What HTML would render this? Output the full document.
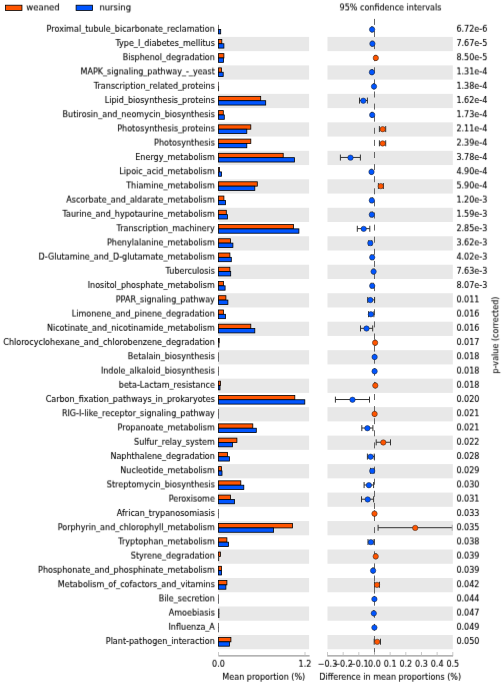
<!DOCTYPE html><html><head><meta charset="utf-8"><title>STAMP extended error bar</title><style>
html,body{margin:0;padding:0;background:#fff;width:503px;height:685px;overflow:hidden}
svg{display:block}text{font-family:"DejaVu Sans","Liberation Sans",sans-serif;fill:#000;stroke:#000;stroke-width:0.1px}
</style></head><body>
<svg width="503" height="685" viewBox="0 0 503 685">
<defs><filter id="f0" x="-20%" y="-50%" width="140%" height="200%"><feConvolveMatrix order="3" kernelMatrix="0.0036 0.0528 0.0036 0.0528 0.7744 0.0528 0.0036 0.0528 0.0036" preserveAlpha="false" edgeMode="none"/></filter><filter id="f1" x="-20%" y="-50%" width="140%" height="200%"><feConvolveMatrix order="3" kernelMatrix="0.0029 0.0422 0.0029 0.0430 0.6301 0.0430 0.0142 0.2077 0.0142" preserveAlpha="false" edgeMode="none"/></filter><filter id="f2" x="-20%" y="-50%" width="140%" height="200%"><feConvolveMatrix order="3" kernelMatrix="0.0022 0.0317 0.0022 0.0331 0.4858 0.0331 0.0247 0.3626 0.0247" preserveAlpha="false" edgeMode="none"/></filter><filter id="f3" x="-20%" y="-50%" width="140%" height="200%"><feConvolveMatrix order="3" kernelMatrix="0.0014 0.0211 0.0014 0.0233 0.3414 0.0233 0.0353 0.5174 0.0353" preserveAlpha="false" edgeMode="none"/></filter><filter id="f4" x="-20%" y="-50%" width="140%" height="200%"><feConvolveMatrix order="3" kernelMatrix="0.0007 0.0106 0.0007 0.0134 0.1971 0.0134 0.0458 0.6723 0.0458" preserveAlpha="false" edgeMode="none"/></filter></defs>
<g fill="#e8e8e8">
<rect x="218.4" y="36.9" width="90.7" height="14.24"/>
<rect x="327.5" y="36.9" width="125.3" height="14.24"/>
<rect x="218.4" y="65.38" width="90.7" height="14.24"/>
<rect x="327.5" y="65.38" width="125.3" height="14.24"/>
<rect x="218.4" y="93.86" width="90.7" height="14.24"/>
<rect x="327.5" y="93.86" width="125.3" height="14.24"/>
<rect x="218.4" y="122.34" width="90.7" height="14.24"/>
<rect x="327.5" y="122.34" width="125.3" height="14.24"/>
<rect x="218.4" y="150.82" width="90.7" height="14.24"/>
<rect x="327.5" y="150.82" width="125.3" height="14.24"/>
<rect x="218.4" y="179.3" width="90.7" height="14.24"/>
<rect x="327.5" y="179.3" width="125.3" height="14.24"/>
<rect x="218.4" y="207.78" width="90.7" height="14.24"/>
<rect x="327.5" y="207.78" width="125.3" height="14.24"/>
<rect x="218.4" y="236.26" width="90.7" height="14.24"/>
<rect x="327.5" y="236.26" width="125.3" height="14.24"/>
<rect x="218.4" y="264.74" width="90.7" height="14.24"/>
<rect x="327.5" y="264.74" width="125.3" height="14.24"/>
<rect x="218.4" y="293.22" width="90.7" height="14.24"/>
<rect x="327.5" y="293.22" width="125.3" height="14.24"/>
<rect x="218.4" y="321.7" width="90.7" height="14.24"/>
<rect x="327.5" y="321.7" width="125.3" height="14.24"/>
<rect x="218.4" y="350.18" width="90.7" height="14.24"/>
<rect x="327.5" y="350.18" width="125.3" height="14.24"/>
<rect x="218.4" y="378.66" width="90.7" height="14.24"/>
<rect x="327.5" y="378.66" width="125.3" height="14.24"/>
<rect x="218.4" y="407.14" width="90.7" height="14.24"/>
<rect x="327.5" y="407.14" width="125.3" height="14.24"/>
<rect x="218.4" y="435.62" width="90.7" height="14.24"/>
<rect x="327.5" y="435.62" width="125.3" height="14.24"/>
<rect x="218.4" y="464.1" width="90.7" height="14.24"/>
<rect x="327.5" y="464.1" width="125.3" height="14.24"/>
<rect x="218.4" y="492.58" width="90.7" height="14.24"/>
<rect x="327.5" y="492.58" width="125.3" height="14.24"/>
<rect x="218.4" y="521.06" width="90.7" height="14.24"/>
<rect x="327.5" y="521.06" width="125.3" height="14.24"/>
<rect x="218.4" y="549.54" width="90.7" height="14.24"/>
<rect x="327.5" y="549.54" width="125.3" height="14.24"/>
<rect x="218.4" y="578.02" width="90.7" height="14.24"/>
<rect x="327.5" y="578.02" width="125.3" height="14.24"/>
<rect x="218.4" y="606.5" width="90.7" height="14.24"/>
<rect x="327.5" y="606.5" width="125.3" height="14.24"/>
<rect x="218.4" y="634.98" width="90.7" height="14.24"/>
<rect x="327.5" y="634.98" width="125.3" height="14.24"/>
</g>
<g stroke="#000" stroke-width="0.8">
<rect x="218.4" y="25.16" width="0.1" height="4.35" fill="#ff5500" stroke="#3a3a3a" stroke-width="0.7"/>
<rect x="218.4" y="29.51" width="2.3" height="4.35" fill="#0055ff"/>
<rect x="218.4" y="39.4" width="3.4" height="4.35" fill="#ff5500"/>
<rect x="218.4" y="43.75" width="5.5" height="4.35" fill="#0055ff"/>
<rect x="218.4" y="53.64" width="5.5" height="4.35" fill="#ff5500"/>
<rect x="218.4" y="57.99" width="5.2" height="4.35" fill="#0055ff"/>
<rect x="218.4" y="67.88" width="3.1" height="4.35" fill="#ff5500"/>
<rect x="218.4" y="72.23" width="4.8" height="4.35" fill="#0055ff"/>
<rect x="218.4" y="82.12" width="0.2" height="4.35" fill="#ff5500" stroke="#3a3a3a" stroke-width="0.7"/>
<rect x="218.4" y="86.47" width="0.3" height="4.35" fill="#0055ff" stroke="#3a3a3a" stroke-width="0.7"/>
<rect x="218.4" y="96.36" width="42.3" height="4.35" fill="#ff5500"/>
<rect x="218.4" y="100.71" width="47.3" height="4.35" fill="#0055ff"/>
<rect x="218.4" y="110.6" width="4.9" height="4.35" fill="#ff5500"/>
<rect x="218.4" y="114.95" width="5.9" height="4.35" fill="#0055ff"/>
<rect x="218.4" y="124.84" width="32.4" height="4.35" fill="#ff5500"/>
<rect x="218.4" y="129.19" width="28.4" height="4.35" fill="#0055ff"/>
<rect x="218.4" y="139.08" width="32.4" height="4.35" fill="#ff5500"/>
<rect x="218.4" y="143.43" width="28.4" height="4.35" fill="#0055ff"/>
<rect x="218.4" y="153.32" width="64.8" height="4.35" fill="#ff5500"/>
<rect x="218.4" y="157.67" width="76.1" height="4.35" fill="#0055ff"/>
<rect x="218.4" y="167.56" width="1.2" height="4.35" fill="#ff5500"/>
<rect x="218.4" y="171.91" width="3.2" height="4.35" fill="#0055ff"/>
<rect x="218.4" y="181.8" width="38.9" height="4.35" fill="#ff5500"/>
<rect x="218.4" y="186.15" width="36.4" height="4.35" fill="#0055ff"/>
<rect x="218.4" y="196.04" width="5.5" height="4.35" fill="#ff5500"/>
<rect x="218.4" y="200.39" width="7.1" height="4.35" fill="#0055ff"/>
<rect x="218.4" y="210.28" width="7.9" height="4.35" fill="#ff5500"/>
<rect x="218.4" y="214.63" width="9.1" height="4.35" fill="#0055ff"/>
<rect x="218.4" y="224.52" width="75.1" height="4.35" fill="#ff5500"/>
<rect x="218.4" y="228.87" width="80.5" height="4.35" fill="#0055ff"/>
<rect x="218.4" y="238.76" width="12.1" height="4.35" fill="#ff5500"/>
<rect x="218.4" y="243.11" width="14.5" height="4.35" fill="#0055ff"/>
<rect x="218.4" y="253" width="11.5" height="4.35" fill="#ff5500"/>
<rect x="218.4" y="257.35" width="12.9" height="4.35" fill="#0055ff"/>
<rect x="218.4" y="267.24" width="11.5" height="4.35" fill="#ff5500"/>
<rect x="218.4" y="271.59" width="12.3" height="4.35" fill="#0055ff"/>
<rect x="218.4" y="281.48" width="5.1" height="4.35" fill="#ff5500"/>
<rect x="218.4" y="285.83" width="6.7" height="4.35" fill="#0055ff"/>
<rect x="218.4" y="295.72" width="7.5" height="4.35" fill="#ff5500"/>
<rect x="218.4" y="300.07" width="9.5" height="4.35" fill="#0055ff"/>
<rect x="218.4" y="309.96" width="5.1" height="4.35" fill="#ff5500"/>
<rect x="218.4" y="314.31" width="7.1" height="4.35" fill="#0055ff"/>
<rect x="218.4" y="324.2" width="32.4" height="4.35" fill="#ff5500"/>
<rect x="218.4" y="328.55" width="36.4" height="4.35" fill="#0055ff"/>
<rect x="218.4" y="338.44" width="0.8" height="4.35" fill="#ff5500"/>
<rect x="218.4" y="342.79" width="0.6" height="4.35" fill="#0055ff" stroke="#3a3a3a" stroke-width="0.7"/>
<rect x="218.4" y="352.68" width="0.1" height="4.35" fill="#ff5500" stroke="#3a3a3a" stroke-width="0.7"/>
<rect x="218.4" y="357.03" width="0.1" height="4.35" fill="#0055ff" stroke="#3a3a3a" stroke-width="0.7"/>
<rect x="218.4" y="366.92" width="0.1" height="4.35" fill="#ff5500" stroke="#3a3a3a" stroke-width="0.7"/>
<rect x="218.4" y="371.27" width="0.1" height="4.35" fill="#0055ff" stroke="#3a3a3a" stroke-width="0.7"/>
<rect x="218.4" y="381.16" width="2.2" height="4.35" fill="#ff5500"/>
<rect x="218.4" y="385.51" width="1.6" height="4.35" fill="#0055ff"/>
<rect x="218.4" y="395.4" width="76.4" height="4.35" fill="#ff5500"/>
<rect x="218.4" y="399.75" width="86.4" height="4.35" fill="#0055ff"/>
<rect x="218.4" y="409.64" width="0.1" height="4.35" fill="#ff5500" stroke="#3a3a3a" stroke-width="0.7"/>
<rect x="218.4" y="413.99" width="0.1" height="4.35" fill="#0055ff" stroke="#3a3a3a" stroke-width="0.7"/>
<rect x="218.4" y="423.88" width="34.4" height="4.35" fill="#ff5500"/>
<rect x="218.4" y="428.23" width="37.9" height="4.35" fill="#0055ff"/>
<rect x="218.4" y="438.12" width="18.5" height="4.35" fill="#ff5500"/>
<rect x="218.4" y="442.47" width="14.1" height="4.35" fill="#0055ff"/>
<rect x="218.4" y="452.36" width="9.1" height="4.35" fill="#ff5500"/>
<rect x="218.4" y="456.71" width="11.1" height="4.35" fill="#0055ff"/>
<rect x="218.4" y="466.6" width="3" height="4.35" fill="#ff5500"/>
<rect x="218.4" y="470.95" width="3.6" height="4.35" fill="#0055ff"/>
<rect x="218.4" y="480.84" width="22.4" height="4.35" fill="#ff5500"/>
<rect x="218.4" y="485.19" width="25.4" height="4.35" fill="#0055ff"/>
<rect x="218.4" y="495.08" width="12.1" height="4.35" fill="#ff5500"/>
<rect x="218.4" y="499.43" width="16.1" height="4.35" fill="#0055ff"/>
<rect x="218.4" y="509.32" width="0.1" height="4.35" fill="#ff5500" stroke="#3a3a3a" stroke-width="0.7"/>
<rect x="218.4" y="513.67" width="0.1" height="4.35" fill="#0055ff" stroke="#3a3a3a" stroke-width="0.7"/>
<rect x="218.4" y="523.56" width="74.1" height="4.35" fill="#ff5500"/>
<rect x="218.4" y="527.91" width="55.2" height="4.35" fill="#0055ff"/>
<rect x="218.4" y="537.8" width="8.5" height="4.35" fill="#ff5500"/>
<rect x="218.4" y="542.15" width="10.1" height="4.35" fill="#0055ff"/>
<rect x="218.4" y="552.04" width="2" height="4.35" fill="#ff5500"/>
<rect x="218.4" y="556.39" width="0.4" height="4.35" fill="#0055ff" stroke="#3a3a3a" stroke-width="0.7"/>
<rect x="218.4" y="566.28" width="3" height="4.35" fill="#ff5500"/>
<rect x="218.4" y="570.63" width="3.2" height="4.35" fill="#0055ff"/>
<rect x="218.4" y="580.52" width="8.5" height="4.35" fill="#ff5500"/>
<rect x="218.4" y="584.87" width="7.5" height="4.35" fill="#0055ff"/>
<rect x="218.4" y="594.76" width="0.1" height="4.35" fill="#ff5500" stroke="#3a3a3a" stroke-width="0.7"/>
<rect x="218.4" y="599.11" width="0.1" height="4.35" fill="#0055ff" stroke="#3a3a3a" stroke-width="0.7"/>
<rect x="218.4" y="609" width="0.6" height="4.35" fill="#ff5500" stroke="#3a3a3a" stroke-width="0.7"/>
<rect x="218.4" y="613.35" width="0.6" height="4.35" fill="#0055ff" stroke="#3a3a3a" stroke-width="0.7"/>
<rect x="218.4" y="623.24" width="0.1" height="4.35" fill="#ff5500" stroke="#3a3a3a" stroke-width="0.7"/>
<rect x="218.4" y="627.59" width="0.1" height="4.35" fill="#0055ff" stroke="#3a3a3a" stroke-width="0.7"/>
<rect x="218.4" y="637.48" width="12.5" height="4.35" fill="#ff5500"/>
<rect x="218.4" y="641.83" width="11.1" height="4.35" fill="#0055ff"/>
</g>
<line x1="374.5" y1="18.9" x2="374.5" y2="655.8" stroke="#555" stroke-width="0.9" stroke-dasharray="6 6.1"/>
<g stroke="#333" stroke-width="1" fill="none">
<path d="M371.5 29.29H372.7M371.5 26.39v6M372.7 26.39v6"/>
<path d="M371.8 43.53H373M371.8 40.63v6M373 40.63v6"/>
<path d="M375.3 57.77H376.3M375.3 54.87v6M376.3 54.87v6"/>
<path d="M371.3 72.01H372.5M371.3 69.11v6M372.5 69.11v6"/>
<path d="M373.5 86.25H374.5M373.5 83.35v6M374.5 83.35v6"/>
<path d="M359.5 100.49H367.4M359.5 97.59v6M367.4 97.59v6"/>
<path d="M371.6 114.73H372.8M371.6 111.83v6M372.8 111.83v6"/>
<path d="M379.4 128.97H385.7M379.4 126.07v6M385.7 126.07v6"/>
<path d="M379.4 143.21H385.7M379.4 140.31v6M385.7 140.31v6"/>
<path d="M340.4 157.45H360.4M340.4 154.55v6M360.4 154.55v6"/>
<path d="M371 171.69H372M371 168.79v6M372 168.79v6"/>
<path d="M378.4 185.93H383.4M378.4 183.03v6M383.4 183.03v6"/>
<path d="M371 200.17H372.6M371 197.27v6M372.6 197.27v6"/>
<path d="M371 214.41H372.6M371 211.51v6M372.6 211.51v6"/>
<path d="M357.3 228.65H369.8M357.3 225.75v6M369.8 225.75v6"/>
<path d="M368.8 242.89H371.8M368.8 239.99v6M371.8 239.99v6"/>
<path d="M371.2 257.13H373.2M371.2 254.23v6M373.2 254.23v6"/>
<path d="M373 271.37H374.2M373 268.47v6M374.2 268.47v6"/>
<path d="M371.2 285.61H373.2M371.2 282.71v6M373.2 282.71v6"/>
<path d="M367.7 299.85H374.6M367.7 296.95v6M374.6 296.95v6"/>
<path d="M368.5 314.09H373.9M368.5 311.19v6M373.9 311.19v6"/>
<path d="M360.5 328.33H372.7M360.5 325.43v6M372.7 325.43v6"/>
<path d="M374.6 342.57H375.6M374.6 339.67v6M375.6 339.67v6"/>
<path d="M374.3 356.81H374.9M374.3 353.91v6M374.9 353.91v6"/>
<path d="M374.3 371.05H374.9M374.3 368.15v6M374.9 368.15v6"/>
<path d="M374.9 385.29H375.7M374.9 382.39v6M375.7 382.39v6"/>
<path d="M335.4 399.53H369.5M335.4 396.63v6M369.5 396.63v6"/>
<path d="M374.4 413.77H374.8M374.4 410.87v6M374.8 410.87v6"/>
<path d="M361.8 428.01H372.9M361.8 425.11v6M372.9 425.11v6"/>
<path d="M376.2 442.25H390.5M376.2 439.35v6M390.5 439.35v6"/>
<path d="M367.4 456.49H374.2M367.4 453.59v6M374.2 453.59v6"/>
<path d="M370.5 470.73H374M370.5 467.83v6M374 467.83v6"/>
<path d="M364.1 484.97H373.6M364.1 482.07v6M373.6 482.07v6"/>
<path d="M361.5 499.21H373.6M361.5 496.31v6M373.6 496.31v6"/>
<path d="M374.3 513.45H374.7M374.3 510.55v6M374.7 510.55v6"/>
<path d="M378.1 527.69H452.2M378.1 524.79v6"/>
<path d="M452.2 524.79v6" stroke="#aaa"/>
<path d="M368 541.93H374M368 539.03v6M374 539.03v6"/>
<path d="M375.2 556.17H376.2M375.2 553.27v6M376.2 553.27v6"/>
<path d="M372.6 570.41H373.6M372.6 567.51v6M373.6 567.51v6"/>
<path d="M374.5 584.65H379.5M374.5 581.75v6M379.5 581.75v6"/>
<path d="M374.2 598.89H374.6M374.2 595.99v6M374.6 595.99v6"/>
<path d="M373.4 613.13H374.2M373.4 610.23v6M374.2 610.23v6"/>
<path d="M374.2 627.37H374.6M374.2 624.47v6M374.6 624.47v6"/>
<path d="M374.2 641.61H380.5M374.2 638.71v6M380.5 638.71v6"/>
</g>
<g stroke="#222" stroke-width="0.5">
<circle cx="372.1" cy="29.51" r="2.7" fill="#0055ff"/>
<circle cx="372.4" cy="43.75" r="2.7" fill="#0055ff"/>
<circle cx="375.8" cy="57.99" r="2.7" fill="#ff5500"/>
<circle cx="371.9" cy="72.23" r="2.7" fill="#0055ff"/>
<circle cx="374" cy="86.47" r="2.7" fill="#0055ff"/>
<circle cx="363.3" cy="100.71" r="2.7" fill="#0055ff"/>
<circle cx="372.2" cy="114.95" r="2.7" fill="#0055ff"/>
<circle cx="382.7" cy="129.19" r="2.7" fill="#ff5500"/>
<circle cx="382.7" cy="143.43" r="2.7" fill="#ff5500"/>
<circle cx="350.5" cy="157.67" r="2.7" fill="#0055ff"/>
<circle cx="371.5" cy="171.91" r="2.7" fill="#0055ff"/>
<circle cx="380.8" cy="186.15" r="2.7" fill="#ff5500"/>
<circle cx="371.8" cy="200.39" r="2.7" fill="#0055ff"/>
<circle cx="371.8" cy="214.63" r="2.7" fill="#0055ff"/>
<circle cx="363.7" cy="228.87" r="2.7" fill="#0055ff"/>
<circle cx="370.3" cy="243.11" r="2.7" fill="#0055ff"/>
<circle cx="372.2" cy="257.35" r="2.7" fill="#0055ff"/>
<circle cx="373.6" cy="271.59" r="2.7" fill="#0055ff"/>
<circle cx="372.2" cy="285.83" r="2.7" fill="#0055ff"/>
<circle cx="370.3" cy="300.07" r="2.7" fill="#0055ff"/>
<circle cx="370.9" cy="314.31" r="2.7" fill="#0055ff"/>
<circle cx="366.5" cy="328.55" r="2.7" fill="#0055ff"/>
<circle cx="375.1" cy="342.79" r="2.7" fill="#ff5500"/>
<circle cx="374.6" cy="357.03" r="2.7" fill="#0055ff"/>
<circle cx="374.6" cy="371.27" r="2.7" fill="#0055ff"/>
<circle cx="375.3" cy="385.51" r="2.7" fill="#ff5500"/>
<circle cx="352.5" cy="399.75" r="2.7" fill="#0055ff"/>
<circle cx="374.6" cy="413.99" r="2.7" fill="#ff5500"/>
<circle cx="367.4" cy="428.23" r="2.7" fill="#0055ff"/>
<circle cx="383.3" cy="442.47" r="2.7" fill="#ff5500"/>
<circle cx="370.6" cy="456.71" r="2.7" fill="#0055ff"/>
<circle cx="372.2" cy="470.95" r="2.7" fill="#0055ff"/>
<circle cx="368.9" cy="485.19" r="2.7" fill="#0055ff"/>
<circle cx="367.7" cy="499.43" r="2.7" fill="#0055ff"/>
<circle cx="374.5" cy="513.67" r="2.7" fill="#ff5500"/>
<circle cx="415.2" cy="527.91" r="2.7" fill="#ff5500"/>
<circle cx="370.9" cy="542.15" r="2.7" fill="#0055ff"/>
<circle cx="375.7" cy="556.39" r="2.7" fill="#ff5500"/>
<circle cx="373.1" cy="570.63" r="2.7" fill="#0055ff"/>
<circle cx="377" cy="584.87" r="2.7" fill="#ff5500"/>
<circle cx="374.4" cy="599.11" r="2.7" fill="#0055ff"/>
<circle cx="373.8" cy="613.35" r="2.7" fill="#0055ff"/>
<circle cx="374.4" cy="627.59" r="2.7" fill="#0055ff"/>
<circle cx="377.2" cy="641.83" r="2.7" fill="#ff5500"/>
</g>
<g stroke="#9a9a9a" stroke-width="1.2">
<line x1="218.4" y1="655.8" x2="309.6" y2="655.8"/>
<line x1="327.2" y1="655.8" x2="453.1" y2="655.8"/>
</g>
<g stroke="#bbb" stroke-width="0.8">
<line x1="218.5" y1="652" x2="218.5" y2="655.8"/>
<line x1="305" y1="652" x2="305" y2="655.8"/>
<line x1="327.5" y1="652" x2="327.5" y2="655.8"/>
<line x1="343.16" y1="652" x2="343.16" y2="655.8"/>
<line x1="358.82" y1="652" x2="358.82" y2="655.8"/>
<line x1="374.49" y1="652" x2="374.49" y2="655.8"/>
<line x1="390.15" y1="652" x2="390.15" y2="655.8"/>
<line x1="405.81" y1="652" x2="405.81" y2="655.8"/>
<line x1="421.48" y1="652" x2="421.48" y2="655.8"/>
<line x1="437.14" y1="652" x2="437.14" y2="655.8"/>
<line x1="452.8" y1="652" x2="452.8" y2="655.8"/>
</g>
<g font-size="8.06">
<text x="214.9" y="31" text-anchor="end" filter="url(#f4)">Proximal_tubule_bicarbonate_reclamation</text>
<text x="456.4" y="31" filter="url(#f4)">6.72e-6</text>
<text x="214.9" y="46" text-anchor="end" filter="url(#f0)">Type_I_diabetes_mellitus</text>
<text x="456.4" y="46" filter="url(#f0)">7.67e-5</text>
<text x="214.9" y="60" text-anchor="end" filter="url(#f1)">Bisphenol_degradation</text>
<text x="456.4" y="60" filter="url(#f1)">8.50e-5</text>
<text x="214.9" y="74" text-anchor="end" filter="url(#f2)">MAPK_signaling_pathway_-_yeast</text>
<text x="456.4" y="74" filter="url(#f2)">1.31e-4</text>
<text x="214.9" y="88" text-anchor="end" filter="url(#f4)">Transcription_related_proteins</text>
<text x="456.4" y="88" filter="url(#f4)">1.38e-4</text>
<text x="214.9" y="103" text-anchor="end" filter="url(#f0)">Lipid_biosynthesis_proteins</text>
<text x="456.4" y="103" filter="url(#f0)">1.62e-4</text>
<text x="214.9" y="117" text-anchor="end" filter="url(#f1)">Butirosin_and_neomycin_biosynthesis</text>
<text x="456.4" y="117" filter="url(#f1)">1.73e-4</text>
<text x="214.9" y="131" text-anchor="end" filter="url(#f2)">Photosynthesis_proteins</text>
<text x="456.4" y="131" filter="url(#f2)">2.11e-4</text>
<text x="214.9" y="145" text-anchor="end" filter="url(#f3)">Photosynthesis</text>
<text x="456.4" y="145" filter="url(#f3)">2.39e-4</text>
<text x="214.9" y="160" text-anchor="end" filter="url(#f0)">Energy_metabolism</text>
<text x="456.4" y="160" filter="url(#f0)">3.78e-4</text>
<text x="214.9" y="174" text-anchor="end" filter="url(#f1)">Lipoic_acid_metabolism</text>
<text x="456.4" y="174" filter="url(#f1)">4.90e-4</text>
<text x="214.9" y="188" text-anchor="end" filter="url(#f2)">Thiamine_metabolism</text>
<text x="456.4" y="188" filter="url(#f2)">5.90e-4</text>
<text x="214.9" y="202" text-anchor="end" filter="url(#f3)">Ascorbate_and_aldarate_metabolism</text>
<text x="456.4" y="202" filter="url(#f3)">1.20e-3</text>
<text x="214.9" y="216" text-anchor="end" filter="url(#f4)">Taurine_and_hypotaurine_metabolism</text>
<text x="456.4" y="216" filter="url(#f4)">1.59e-3</text>
<text x="214.9" y="231" text-anchor="end" filter="url(#f1)">Transcription_machinery</text>
<text x="456.4" y="231" filter="url(#f1)">2.85e-3</text>
<text x="214.9" y="245" text-anchor="end" filter="url(#f2)">Phenylalanine_metabolism</text>
<text x="456.4" y="245" filter="url(#f2)">3.62e-3</text>
<text x="214.9" y="259" text-anchor="end" filter="url(#f3)">D-Glutamine_and_D-glutamate_metabolism</text>
<text x="456.4" y="259" filter="url(#f3)">4.02e-3</text>
<text x="214.9" y="273" text-anchor="end" filter="url(#f4)">Tuberculosis</text>
<text x="456.4" y="273" filter="url(#f4)">7.63e-3</text>
<text x="214.9" y="288" text-anchor="end" filter="url(#f0)">Inositol_phosphate_metabolism</text>
<text x="456.4" y="288" filter="url(#f0)">8.07e-3</text>
<text x="214.9" y="302" text-anchor="end" filter="url(#f2)">PPAR_signaling_pathway</text>
<text x="456.4" y="302" filter="url(#f2)">0.011</text>
<text x="214.9" y="316" text-anchor="end" filter="url(#f3)">Limonene_and_pinene_degradation</text>
<text x="456.4" y="316" filter="url(#f3)">0.016</text>
<text x="214.9" y="330" text-anchor="end" filter="url(#f4)">Nicotinate_and_nicotinamide_metabolism</text>
<text x="456.4" y="330" filter="url(#f4)">0.016</text>
<text x="214.9" y="345" text-anchor="end" filter="url(#f0)">Chlorocyclohexane_and_chlorobenzene_degradation</text>
<text x="456.4" y="345" filter="url(#f0)">0.017</text>
<text x="214.9" y="359" text-anchor="end" filter="url(#f1)">Betalain_biosynthesis</text>
<text x="456.4" y="359" filter="url(#f1)">0.018</text>
<text x="214.9" y="373" text-anchor="end" filter="url(#f3)">Indole_alkaloid_biosynthesis</text>
<text x="456.4" y="373" filter="url(#f3)">0.018</text>
<text x="214.9" y="387" text-anchor="end" filter="url(#f4)">beta-Lactam_resistance</text>
<text x="456.4" y="387" filter="url(#f4)">0.018</text>
<text x="214.9" y="402" text-anchor="end" filter="url(#f0)">Carbon_fixation_pathways_in_prokaryotes</text>
<text x="456.4" y="402" filter="url(#f0)">0.020</text>
<text x="214.9" y="416" text-anchor="end" filter="url(#f1)">RIG-I-like_receptor_signaling_pathway</text>
<text x="456.4" y="416" filter="url(#f1)">0.021</text>
<text x="214.9" y="430" text-anchor="end" filter="url(#f2)">Propanoate_metabolism</text>
<text x="456.4" y="430" filter="url(#f2)">0.021</text>
<text x="214.9" y="444" text-anchor="end" filter="url(#f4)">Sulfur_relay_system</text>
<text x="456.4" y="444" filter="url(#f4)">0.022</text>
<text x="214.9" y="459" text-anchor="end" filter="url(#f0)">Naphthalene_degradation</text>
<text x="456.4" y="459" filter="url(#f0)">0.028</text>
<text x="214.9" y="473" text-anchor="end" filter="url(#f1)">Nucleotide_metabolism</text>
<text x="456.4" y="473" filter="url(#f1)">0.029</text>
<text x="214.9" y="487" text-anchor="end" filter="url(#f2)">Streptomycin_biosynthesis</text>
<text x="456.4" y="487" filter="url(#f2)">0.030</text>
<text x="214.9" y="501" text-anchor="end" filter="url(#f3)">Peroxisome</text>
<text x="456.4" y="501" filter="url(#f3)">0.031</text>
<text x="214.9" y="516" text-anchor="end" filter="url(#f0)">African_trypanosomiasis</text>
<text x="456.4" y="516" filter="url(#f0)">0.033</text>
<text x="214.9" y="530" text-anchor="end" filter="url(#f1)">Porphyrin_and_chlorophyll_metabolism</text>
<text x="456.4" y="530" filter="url(#f1)">0.035</text>
<text x="214.9" y="544" text-anchor="end" filter="url(#f2)">Tryptophan_metabolism</text>
<text x="456.4" y="544" filter="url(#f2)">0.038</text>
<text x="214.9" y="558" text-anchor="end" filter="url(#f3)">Styrene_degradation</text>
<text x="456.4" y="558" filter="url(#f3)">0.039</text>
<text x="214.9" y="572" text-anchor="end" filter="url(#f4)">Phosphonate_and_phosphinate_metabolism</text>
<text x="456.4" y="572" filter="url(#f4)">0.039</text>
<text x="214.9" y="587" text-anchor="end" filter="url(#f1)">Metabolism_of_cofactors_and_vitamins</text>
<text x="456.4" y="587" filter="url(#f1)">0.042</text>
<text x="214.9" y="601" text-anchor="end" filter="url(#f2)">Bile_secretion</text>
<text x="456.4" y="601" filter="url(#f2)">0.044</text>
<text x="214.9" y="615" text-anchor="end" filter="url(#f3)">Amoebiasis</text>
<text x="456.4" y="615" filter="url(#f3)">0.047</text>
<text x="214.9" y="629" text-anchor="end" filter="url(#f4)">Influenza_A</text>
<text x="456.4" y="629" filter="url(#f4)">0.049</text>
<text x="214.9" y="644" text-anchor="end" filter="url(#f0)">Plant-pathogen_interaction</text>
<text x="456.4" y="644" filter="url(#f0)">0.050</text>
<text x="218.5" y="666" text-anchor="middle" filter="url(#f4)">0.0</text>
<text x="305" y="666" text-anchor="middle" filter="url(#f4)">1.2</text>
<text x="327.5" y="666" text-anchor="middle" filter="url(#f4)">−0.3</text>
<text x="343.16" y="666" text-anchor="middle" filter="url(#f4)">−0.2</text>
<text x="358.82" y="666" text-anchor="middle" filter="url(#f4)">−0.1</text>
<text x="374.49" y="666" text-anchor="middle" filter="url(#f4)">0.0</text>
<text x="390.15" y="666" text-anchor="middle" filter="url(#f4)">0.1</text>
<text x="405.81" y="666" text-anchor="middle" filter="url(#f4)">0.2</text>
<text x="421.48" y="666" text-anchor="middle" filter="url(#f4)">0.3</text>
<text x="437.14" y="666" text-anchor="middle" filter="url(#f4)">0.4</text>
<text x="452.8" y="666" text-anchor="middle" filter="url(#f4)">0.5</text>
<text x="263.8" y="679" text-anchor="middle" filter="url(#f4)">Mean proportion (%)</text>
<text x="390.2" y="679" text-anchor="middle" filter="url(#f4)">Difference in mean proportions (%)</text>
<text x="390.5" y="10" text-anchor="middle" filter="url(#f2)">95% confidence intervals</text>
<text transform="translate(498.3 335.1) rotate(-90)" text-anchor="middle" filter="url(#f0)">p-value (corrected)</text>
</g>
<rect x="5.55" y="5.2" width="16.4" height="5.25" fill="#ff5500" stroke="#000" stroke-width="0.8"/>
<rect x="76.1" y="5.2" width="16.4" height="5.25" fill="#0055ff" stroke="#000" stroke-width="0.8"/>
<text x="26.3" y="10" font-size="8.5" filter="url(#f2)">weaned</text>
<text x="99.4" y="10" font-size="8.45" filter="url(#f2)">nursing</text>
</svg></body></html>
